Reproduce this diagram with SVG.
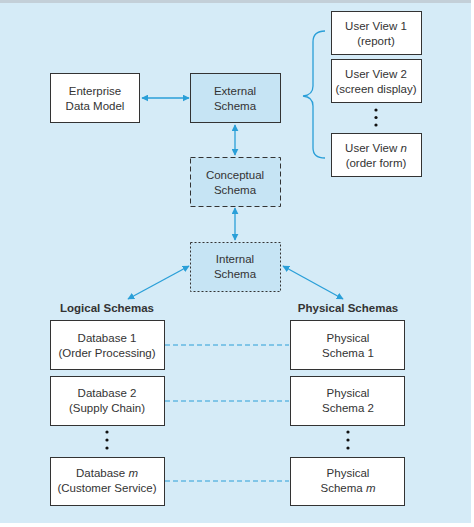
<svg xmlns="http://www.w3.org/2000/svg" width="474" height="527" viewBox="0 0 474 527">
<style>
text{font-family:"Liberation Sans",Arial,sans-serif;font-size:11.5px;fill:#333;text-anchor:middle}
.b{fill:#fff;stroke:#333;stroke-width:1}
.s{fill:#c6e4f4;stroke:#333;stroke-width:1}
.c{stroke:#2a9fd8;stroke-width:1.3;fill:none}
.d{stroke:#2a9fd8;stroke-width:1;stroke-dasharray:5 3;fill:none}
.h{font-weight:bold}
.dot{fill:#111}
</style>
<defs>
<marker id="a" viewBox="0 0 10 10" refX="9" refY="5" markerWidth="7" markerHeight="7" orient="auto-start-reverse" markerUnits="userSpaceOnUse"><path d="M0,0L10,5L0,10z" fill="#2a9fd8"/></marker>
</defs>
<rect x="0" y="0" width="474" height="527" fill="#fff"/>
<rect x="0" y="0" width="471" height="523" fill="#d5ebf7"/>
<rect x="0" y="0" width="471" height="3" fill="#c3cfd8"/>
<g id="connectors">
<line class="c" x1="142" y1="98" x2="189" y2="98" marker-start="url(#a)" marker-end="url(#a)"/>
<line class="c" x1="235" y1="125" x2="235" y2="155" marker-start="url(#a)" marker-end="url(#a)"/>
<line class="c" x1="235" y1="208" x2="235" y2="240" marker-start="url(#a)" marker-end="url(#a)"/>
<line class="c" x1="189" y1="266" x2="128" y2="299" marker-start="url(#a)" marker-end="url(#a)"/>
<line class="c" x1="283" y1="266" x2="343" y2="299" marker-start="url(#a)" marker-end="url(#a)"/>
<line class="d" x1="165" y1="345" x2="289" y2="345"/>
<line class="d" x1="165" y1="401" x2="289" y2="401"/>
<line class="d" x1="165" y1="481" x2="289" y2="481"/>
<path class="c" d="M325,31 Q313,31 313,42 L313,86 Q313,95 303,96 Q313,97 313,106 L313,148 Q313,158 325,158"/>
</g>
<g id="enterprise"><rect class="b" x="50.5" y="73.5" width="89" height="49"/><text x="95" y="95">Enterprise</text><text x="95" y="110">Data Model</text></g>
<g id="external"><rect class="s" x="190.5" y="73.5" width="90" height="49"/><text x="235" y="95">External</text><text x="235" y="110">Schema</text></g>
<g id="conceptual"><rect class="s" x="190.5" y="157.5" width="90" height="49" stroke-dasharray="5 3"/><text x="235" y="179">Conceptual</text><text x="235" y="194">Schema</text></g>
<g id="internal"><rect class="s" x="190.5" y="242.5" width="90" height="49" stroke-dasharray="2 2"/><text x="235" y="263">Internal</text><text x="235" y="278">Schema</text></g>
<g id="uv1"><rect class="b" x="331.5" y="11.5" width="90" height="43"/><text x="376" y="30">User View 1</text><text x="376" y="45">(report)</text></g>
<g id="uv2"><rect class="b" x="331.5" y="59.5" width="90" height="43"/><text x="376" y="78">User View 2</text><text x="376" y="93">(screen display)</text></g>
<g id="uvdots"><circle class="dot" cx="376" cy="110" r="1.6"/><circle class="dot" cx="376" cy="117.5" r="1.6"/><circle class="dot" cx="376" cy="125" r="1.6"/></g>
<g id="uvn"><rect class="b" x="331.5" y="133.5" width="90" height="43"/><text x="376" y="152">User View <tspan font-style="italic">n</tspan></text><text x="376" y="167">(order form)</text></g>
<g id="logical-label"><text class="h" x="107" y="312">Logical Schemas</text></g>
<g id="physical-label"><text class="h" x="348" y="312">Physical Schemas</text></g>
<g id="db1"><rect class="b" x="50.5" y="320.5" width="114" height="49"/><text x="107" y="342">Database 1</text><text x="107" y="357">(Order Processing)</text></g>
<g id="db2"><rect class="b" x="50.5" y="376.5" width="114" height="49"/><text x="107" y="397">Database 2</text><text x="107" y="412">(Supply Chain)</text></g>
<g id="dbdots"><circle class="dot" cx="107" cy="432" r="1.6"/><circle class="dot" cx="107" cy="440" r="1.6"/><circle class="dot" cx="107" cy="448" r="1.6"/></g>
<g id="dbm"><rect class="b" x="50.5" y="457.5" width="114" height="48"/><text x="107" y="477">Database <tspan font-style="italic">m</tspan></text><text x="107" y="492">(Customer Service)</text></g>
<g id="ps1"><rect class="b" x="290.5" y="320.5" width="114" height="49"/><text x="348" y="342">Physical</text><text x="348" y="357">Schema 1</text></g>
<g id="ps2"><rect class="b" x="290.5" y="376.5" width="114" height="49"/><text x="348" y="397">Physical</text><text x="348" y="412">Schema 2</text></g>
<g id="psdots"><circle class="dot" cx="348" cy="432" r="1.6"/><circle class="dot" cx="348" cy="440" r="1.6"/><circle class="dot" cx="348" cy="448" r="1.6"/></g>
<g id="psm"><rect class="b" x="290.5" y="457.5" width="114" height="48"/><text x="348" y="477">Physical</text><text x="348" y="492">Schema <tspan font-style="italic">m</tspan></text></g>
</svg>
